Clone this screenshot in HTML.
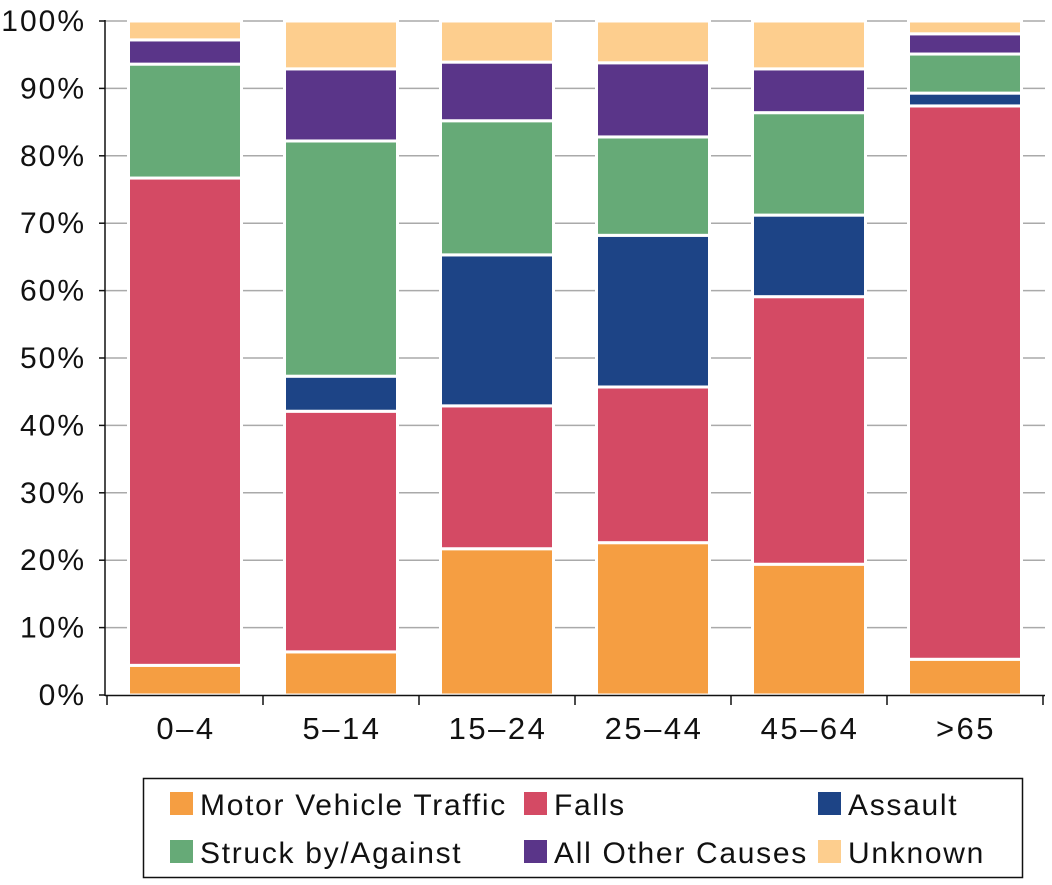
<!DOCTYPE html>
<html><head><meta charset="utf-8"><style>
body{margin:0;background:#fff;}
svg text{font-family:"Liberation Sans",Arial,sans-serif;fill:#111;}
</style></head><body>
<svg id="chart" width="1052" height="880"></svg>
<script>
const categories=["0–4","5–14","15–24","25–44","45–64",">65"];
const seriesNames=["Motor Vehicle Traffic","Falls","Assault","Struck by/Against","All Other Causes","Unknown"];
const mvt=[4.4,6.4,21.7,22.6,19.4,5.3];
const falls=[72.3,35.7,21.2,23.1,39.7,82.1];
const assault=[0,5.2,22.4,22.5,12.1,1.9];
const struck=[16.9,34.9,19.9,14.6,15.2,5.8];
const other=[3.6,10.7,8.7,11.0,6.5,3.0];
const unknown=[2.8,7.1,6.1,6.2,7.1,1.9];
const yTicks=["0%","10%","20%","30%","40%","50%","60%","70%","80%","90%","100%"];
const series=[mvt,falls,assault,struck,other,unknown];
const colors=["#F59E42","#D44A64","#1D4486","#66AA77","#5A3589","#FDCE8E"];
const NS="http://www.w3.org/2000/svg";
const svg=document.getElementById("chart");
function mk(t,a){const e=document.createElementNS(NS,t);for(const k in a)e.setAttribute(k,a[k]);svg.appendChild(e);return e;}
const y0=695,y1=21,xL=107,step=156,bw=113;
const yS=v=>y0-(v/100)*(y0-y1);
const xS=i=>xL+i*step+(step-bw)/2;
yTicks.forEach((t,i)=>{const y=yS(i*10);
 if(i>0){const g=mk("line",{x1:105,x2:1045,y1:y,y2:y,stroke:"#aaa","stroke-width":1.5});
 
 }
 const tk=mk("line",{x1:99,x2:105,y1:y,y2:y,stroke:"#111","stroke-width":1.5});
 
 
 const tx=mk("text",{x:86,y:y+10,"text-anchor":"end","font-size":30,"letter-spacing":2});tx.textContent=t;
 
 
});
categories.forEach((c,i)=>{let acc=0;
 series.forEach((s,j)=>{const v=s[i];if(v>0){
  const r=mk("rect",{x:xS(i),y:yS(acc+v),width:bw,height:yS(acc)-yS(acc+v),fill:colors[j],stroke:"#fff","stroke-width":3});
  
  }
  acc+=v;});
 const tx=mk("text",{x:xL+i*step+step/2+1,y:739,"text-anchor":"middle","font-size":31,"letter-spacing":2.5});tx.textContent=c;
 
 
});
for(let i=0;i<=categories.length;i++){const x=xL+i*step;
 const t=mk("line",{x1:x,x2:x,y1:695,y2:705,stroke:"#111","stroke-width":1.5});
 
 }
const ax=mk("line",{x1:105,x2:1045,y1:695.5,y2:695.5,stroke:"#111","stroke-width":1.5});


const ay=mk("line",{x1:105,x2:105,y1:20,y2:696,stroke:"#111","stroke-width":1.5});


const lb=mk("rect",{x:143.5,y:778.5,width:879,height:99,fill:"none",stroke:"#111","stroke-width":1.5});


const lx=[170,524,818],ly=[792,840];
seriesNames.forEach((n,i)=>{const col=i%3,row=Math.floor(i/3);
 const s=mk("rect",{x:lx[col],y:ly[row],width:23,height:23,fill:colors[i]});
 
 
 const t=mk("text",{x:lx[col]+30,y:ly[row]+23,"font-size":30,"letter-spacing":1.7});t.textContent=n;
 
 
});
</script>
</body></html>
